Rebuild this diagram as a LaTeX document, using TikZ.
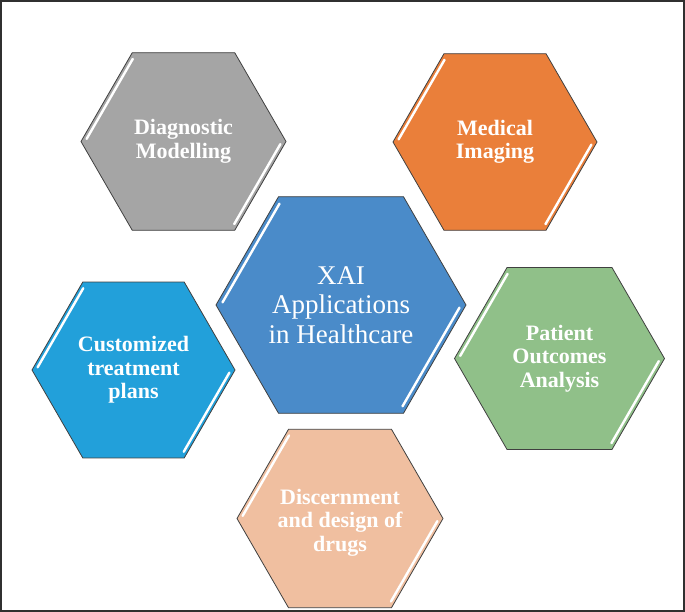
\documentclass[tikz,border=0pt]{standalone}
\usepackage{fontspec}
\setmainfont{Liberation Serif}
\usetikzlibrary{shapes.geometric,calc}
\definecolor{hexline}{HTML}{404040}
\definecolor{frame}{HTML}{303030}
\definecolor{cgray}{HTML}{A5A5A5}
\definecolor{corange}{HTML}{EA7F3A}
\definecolor{cblue}{HTML}{4A8BC9}
\definecolor{ccyan}{HTML}{22A0DA}
\definecolor{cgreen}{HTML}{90C089}
\definecolor{cpeach}{HTML}{F0BFA0}
\begin{document}
\begin{tikzpicture}[x=1pt,y=-1pt,
  hexa/.style={regular polygon, regular polygon sides=6, draw=hexline, line width=0.8pt,
               inner sep=0pt, outer sep=0pt, minimum size=#1},
  lbl/.style={text=white, align=center, font=\fontsize{22}{23.5}\selectfont\bfseries},
  biglbl/.style={text=white, align=center, font=\fontsize{27}{29.5}\selectfont},
  hl/.style={draw=white, line width=2.4pt, line cap=round, shorten <=3pt, shorten >=3pt}]
\useasboundingbox (0,0) rectangle (685,612);
\draw[frame, line width=2pt] (1,1) rectangle (684,611);

\node[hexa=205, fill=cgray]   (d) at (183.5,141.5) {};
\node[hexa=204, fill=corange] (m) at (495,142) {};
\node[hexa=250, fill=cblue]   (x) at (341,305) {};
\node[hexa=203, fill=ccyan]   (c) at (133.5,370) {};
\node[hexa=210, fill=cgreen]  (p) at (559.5,358.5) {};
\node[hexa=206, fill=cpeach]  (g) at (340,518.5) {};

\foreach \n in {d,m,x,c,p,g}{
  \draw[hl] ($(\n)!0.96!(\n.corner 2)$) -- ($(\n)!0.96!(\n.corner 3)$);
  \draw[hl] ($(\n)!0.96!(\n.corner 6)$) -- ($(\n)!0.96!(\n.corner 5)$);
}

\node[lbl] (dt) at (d) {Diagnostic\\Modelling};
\node[lbl] (mt) at (m) {Medical\\Imaging};
\node[biglbl] (xt) at (x) {XAI\\Applications\\in Healthcare};
\node[lbl] (ct) at (c) {Customized\\treatment\\plans};
\node[lbl] (pt) at (p) {Patient\\Outcomes\\Analysis};
\node[lbl] (gt) at ($(g)+(0,4)$) {Discernment\\and design of\\drugs};
\end{tikzpicture}
\end{document}
